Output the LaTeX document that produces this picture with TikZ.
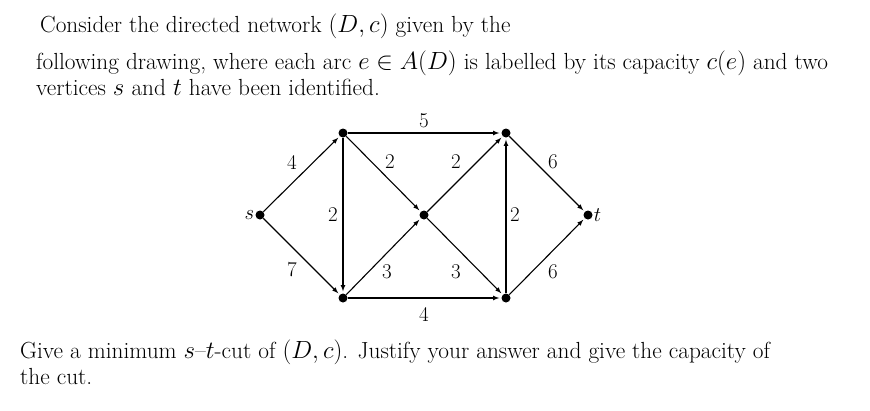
\documentclass[tikz,border=0pt]{standalone}
\usepackage{amssymb}
\begin{document}
\begin{tikzpicture}[x=1pt,y=-1pt,
  vtx/.style={circle,fill=black,inner sep=0pt,minimum size=9pt},
  arc/.style={-latex,line width=1.1pt,shorten >=2pt},
  lab/.style={font=\fontsize{21}{23}\selectfont,inner sep=1pt},
  txt/.style={anchor=west,font=\fontsize{23.3}{26}\selectfont,inner sep=0pt,align=left}]
\useasboundingbox (0,0) rectangle (870,410);
\node[txt] (t1) at (40,26) {Consider the directed network $(D,c)$ given by the};
\node[txt,anchor=north west] (t2) at (36,51) {following drawing, where each arc $e\in A(D)$ is labelled by its capacity $c(e)$ and two\\vertices $s$ and $t$ have been identified.};
\node[txt,anchor=north west] (t3) at (20,340) {Give a minimum $s$--$t$-cut of $(D,c)$. Justify your answer and give the capacity of\\the cut.};
\node[vtx,label={[lab]left:$s$}] (s) at (260,215) {};
\node[vtx] (a) at (343,133) {};
\node[vtx] (b) at (343,298) {};
\node[vtx] (m) at (424,215) {};
\node[vtx] (c) at (506,133) {};
\node[vtx] (d) at (506,298) {};
\node[vtx,label={[lab]right:$t$}] (t) at (588,215) {};
\draw[arc] (s) -- (a);
\draw[arc] (s) -- (b);
\draw[arc] (a) -- (c);
\draw[arc] (b) -- (d);
\draw[arc] (a) -- (b);
\draw[arc] (a) -- (m);
\draw[arc] (b) -- (m);
\draw[arc] (m) -- (c);
\draw[arc] (m) -- (d);
\draw[arc] (d) -- (c);
\draw[arc] (c) -- (t);
\draw[arc] (d) -- (t);
\node[lab] (l1) at (292,162) {4};
\node[lab] (l2) at (292,270) {7};
\node[lab] (l3) at (424,121) {5};
\node[lab] (l4) at (424,314) {4};
\node[lab,fill=white] (l5) at (333,215) {2};
\node[lab,fill=white] (l6) at (515,215) {2};
\node[lab] (l7) at (390,162) {2};
\node[lab] (l8) at (456,162) {2};
\node[lab] (l9) at (387,272) {3};
\node[lab] (l10) at (456,272) {3};
\node[lab] (l11) at (553,162) {6};
\node[lab] (l12) at (553,272) {6};
\end{tikzpicture}
\end{document}
